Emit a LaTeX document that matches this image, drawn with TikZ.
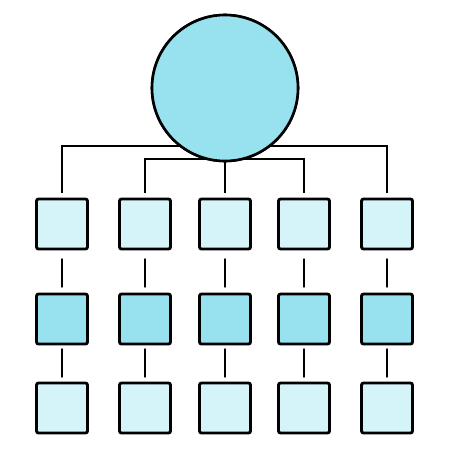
\documentclass[tikz,border=0pt]{standalone}
\definecolor{cdark}{HTML}{98E2F0}
\definecolor{clight}{HTML}{D4F4F9}
\begin{document}
\begin{tikzpicture}[x=1pt,y=-1pt,
  box/.style={draw=black,line width=2.8pt,rounded corners=2pt,minimum width=51pt,minimum height=50pt,inner sep=0pt},
  lbox/.style={box,fill=clight},
  dbox/.style={box,fill=cdark},
  conn/.style={draw=black,line width=2.6pt},
  link/.style={draw=black,line width=2.8pt,line cap=round}]
\useasboundingbox (0,0) rectangle (450,450);
\node[circle,draw=black,line width=2.6pt,fill=cdark,minimum size=146pt,inner sep=0pt] (top) at (225,88) {};
\foreach \i/\x in {1/62,2/145,3/225,4/304,5/387}{
  \node[lbox] (a\i) at (\x,224) {};
  \node[dbox] (b\i) at (\x,319) {};
  \node[lbox] (c\i) at (\x,408) {};
  \coordinate (ua\i) at (\x,193);
  \draw[link] ([yshift=-9pt]a\i.south) -- ([yshift=6pt]b\i.north);
  \draw[link] ([yshift=-4pt]b\i.south) -- ([yshift=5pt]c\i.north);
}
\draw[conn] (ua1) |- (ua5 |- 0,146) -- (ua5);
\draw[conn] (ua2) |- (ua4 |- 0,159) -- (ua4);
\draw[conn] (top.south) -- (ua3);
\node[circle,draw=black,line width=2.6pt,fill=cdark,minimum size=146pt,inner sep=0pt] at (top) {};
\end{tikzpicture}
\end{document}
